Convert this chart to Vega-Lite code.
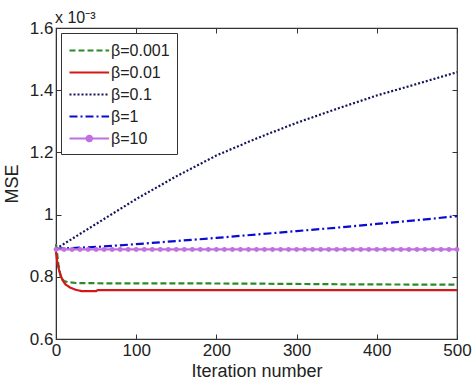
{
  "$schema": "https://vega.github.io/schema/vega-lite/v6.json",
  "width": 401,
  "height": 311,
  "autosize": "none",
  "padding": {"left": 56, "top": 28, "right": 17, "bottom": 44},
  "background": "white",
  "config": {
    "font": "Liberation Sans",
    "view": {"stroke": "#333", "strokeWidth": 1.2},
    "axis": {"grid": false, "domainColor": "#333", "tickColor": "#333", "labelColor": "#222", "titleColor": "#222", "labelFontSize": 17, "titleFontSize": 18, "titleFontWeight": "normal", "labelFont": "Liberation Sans", "titleFont": "Liberation Sans"}
  },
  "title": {"text": "x 10⁻³", "anchor": "start", "frame": "group", "fontSize": 16, "fontWeight": "normal", "color": "#222", "offset": -7, "dx": -1, "font": "Liberation Sans"},
  "datasets": {
    "d": [
      {"b": "β=0.001", "x": 0, "y": 0.905},
      {"b": "β=0.001", "x": 3, "y": 0.84},
      {"b": "β=0.001", "x": 6, "y": 0.80},
      {"b": "β=0.001", "x": 10, "y": 0.786},
      {"b": "β=0.001", "x": 15, "y": 0.783},
      {"b": "β=0.001", "x": 25, "y": 0.78},
      {"b": "β=0.001", "x": 60, "y": 0.779},
      {"b": "β=0.001", "x": 150, "y": 0.779},
      {"b": "β=0.001", "x": 250, "y": 0.778},
      {"b": "β=0.001", "x": 350, "y": 0.776},
      {"b": "β=0.001", "x": 450, "y": 0.775},
      {"b": "β=0.001", "x": 500, "y": 0.775},
      {"b": "β=0.01", "x": 0, "y": 0.88},
      {"b": "β=0.01", "x": 2, "y": 0.84},
      {"b": "β=0.01", "x": 5, "y": 0.81},
      {"b": "β=0.01", "x": 8, "y": 0.79},
      {"b": "β=0.01", "x": 12, "y": 0.775},
      {"b": "β=0.01", "x": 18, "y": 0.765},
      {"b": "β=0.01", "x": 25, "y": 0.758},
      {"b": "β=0.01", "x": 32, "y": 0.754},
      {"b": "β=0.01", "x": 50, "y": 0.754},
      {"b": "β=0.01", "x": 52, "y": 0.757},
      {"b": "β=0.01", "x": 200, "y": 0.757},
      {"b": "β=0.01", "x": 500, "y": 0.757},
      {"b": "β=0.1", "x": 0, "y": 0.89},
      {"b": "β=0.1", "x": 25, "y": 0.93},
      {"b": "β=0.1", "x": 50, "y": 0.97},
      {"b": "β=0.1", "x": 75, "y": 1.01},
      {"b": "β=0.1", "x": 100, "y": 1.05},
      {"b": "β=0.1", "x": 150, "y": 1.123},
      {"b": "β=0.1", "x": 200, "y": 1.19},
      {"b": "β=0.1", "x": 250, "y": 1.245},
      {"b": "β=0.1", "x": 300, "y": 1.295},
      {"b": "β=0.1", "x": 350, "y": 1.34},
      {"b": "β=0.1", "x": 400, "y": 1.383},
      {"b": "β=0.1", "x": 450, "y": 1.42},
      {"b": "β=0.1", "x": 500, "y": 1.458},
      {"b": "β=1", "x": 0, "y": 0.89},
      {"b": "β=1", "x": 50, "y": 0.896},
      {"b": "β=1", "x": 100, "y": 0.905},
      {"b": "β=1", "x": 150, "y": 0.915},
      {"b": "β=1", "x": 200, "y": 0.925},
      {"b": "β=1", "x": 250, "y": 0.936},
      {"b": "β=1", "x": 300, "y": 0.947},
      {"b": "β=1", "x": 350, "y": 0.958},
      {"b": "β=1", "x": 400, "y": 0.97},
      {"b": "β=1", "x": 450, "y": 0.982},
      {"b": "β=1", "x": 500, "y": 0.995},
      {"b": "β=10", "x": 0, "y": 0.888},
      {"b": "β=10", "x": 10, "y": 0.888},
      {"b": "β=10", "x": 20, "y": 0.888},
      {"b": "β=10", "x": 30, "y": 0.888},
      {"b": "β=10", "x": 40, "y": 0.888},
      {"b": "β=10", "x": 50, "y": 0.888},
      {"b": "β=10", "x": 60, "y": 0.888},
      {"b": "β=10", "x": 70, "y": 0.888},
      {"b": "β=10", "x": 80, "y": 0.888},
      {"b": "β=10", "x": 90, "y": 0.888},
      {"b": "β=10", "x": 100, "y": 0.888},
      {"b": "β=10", "x": 110, "y": 0.888},
      {"b": "β=10", "x": 120, "y": 0.888},
      {"b": "β=10", "x": 130, "y": 0.888},
      {"b": "β=10", "x": 140, "y": 0.888},
      {"b": "β=10", "x": 150, "y": 0.888},
      {"b": "β=10", "x": 160, "y": 0.888},
      {"b": "β=10", "x": 170, "y": 0.888},
      {"b": "β=10", "x": 180, "y": 0.888},
      {"b": "β=10", "x": 190, "y": 0.888},
      {"b": "β=10", "x": 200, "y": 0.888},
      {"b": "β=10", "x": 210, "y": 0.888},
      {"b": "β=10", "x": 220, "y": 0.888},
      {"b": "β=10", "x": 230, "y": 0.888},
      {"b": "β=10", "x": 240, "y": 0.888},
      {"b": "β=10", "x": 250, "y": 0.888},
      {"b": "β=10", "x": 260, "y": 0.888},
      {"b": "β=10", "x": 270, "y": 0.888},
      {"b": "β=10", "x": 280, "y": 0.888},
      {"b": "β=10", "x": 290, "y": 0.888},
      {"b": "β=10", "x": 300, "y": 0.888},
      {"b": "β=10", "x": 310, "y": 0.888},
      {"b": "β=10", "x": 320, "y": 0.888},
      {"b": "β=10", "x": 330, "y": 0.888},
      {"b": "β=10", "x": 340, "y": 0.888},
      {"b": "β=10", "x": 350, "y": 0.888},
      {"b": "β=10", "x": 360, "y": 0.888},
      {"b": "β=10", "x": 370, "y": 0.888},
      {"b": "β=10", "x": 380, "y": 0.888},
      {"b": "β=10", "x": 390, "y": 0.888},
      {"b": "β=10", "x": 400, "y": 0.888},
      {"b": "β=10", "x": 410, "y": 0.888},
      {"b": "β=10", "x": 420, "y": 0.888},
      {"b": "β=10", "x": 430, "y": 0.888},
      {"b": "β=10", "x": 440, "y": 0.888},
      {"b": "β=10", "x": 450, "y": 0.888},
      {"b": "β=10", "x": 460, "y": 0.888},
      {"b": "β=10", "x": 470, "y": 0.888},
      {"b": "β=10", "x": 480, "y": 0.888},
      {"b": "β=10", "x": 490, "y": 0.888},
      {"b": "β=10", "x": 500, "y": 0.888}
    ]
  },
  "data": {"name": "d"},
  "resolve": {"axis": {"x": "independent", "y": "independent"}},
  "layer": [
    {
      "mark": {"type": "line", "strokeWidth": 2.2},
      "encoding": {
        "x": {"field": "x", "type": "quantitative", "scale": {"domain": [0, 500], "nice": false},
              "axis": {"orient": "bottom", "values": [0, 100, 200, 300, 400, 500], "tickSize": -5, "labelPadding": 8, "title": "Iteration number", "titlePadding": 4, "labelFlush": false}},
        "y": {"field": "y", "type": "quantitative", "scale": {"domain": [0.6, 1.6], "nice": false, "zero": false},
              "axis": {"orient": "left", "values": [0.6, 0.8, 1.0, 1.2, 1.4, 1.6], "format": "~g", "tickSize": -5, "labelPadding": 8, "title": "MSE", "titlePadding": 8, "labelFlush": false}},
        "color": {"field": "b", "type": "nominal",
                  "scale": {"domain": ["β=0.001", "β=0.01", "β=0.1", "β=1", "β=10"], "range": ["#2a8a2a", "#d41818", "#14145a", "#0a0ad0", "#c070e0"]},
                  "legend": {"title": null, "orient": "top-left", "offset": 5, "fillColor": "white", "strokeColor": "#333", "padding": 7, "labelFontSize": 16, "labelFont": "Liberation Sans", "labelColor": "#222", "symbolType": "M-1,0H3.4", "symbolSize": 324, "symbolStrokeWidth": 2.2, "rowPadding": 3, "labelOffset": 22,
                             "encode": {"symbols": {"update": {
                               "shape": {"signal": "datum.value === 'β=10' ? 'M-1,0H3.4M0.9,0a0.3,0.3 0 1,0 0.6,0a0.3,0.3 0 1,0 -0.6,0' : 'M-1,0H3.4'"},
                               "fill": {"signal": "datum.value === 'β=10' ? '#c070e0' : 'transparent'"}
                             }}}}},
        "strokeDash": {"field": "b", "type": "nominal",
                  "scale": {"domain": ["β=0.001", "β=0.01", "β=0.1", "β=1", "β=10"], "range": [[6, 3], [1, 0], [2, 2], [8, 3, 2, 3], [1, 0]]},
                  "legend": null}
      }
    },
    {
      "transform": [{"filter": "datum.b == 'β=10'"}],
      "mark": {"type": "point", "filled": true, "size": 24, "color": "#c070e0", "opacity": 1},
      "encoding": {
        "x": {"field": "x", "type": "quantitative", "scale": {"domain": [0, 500], "nice": false},
              "axis": {"orient": "top", "values": [0, 100, 200, 300, 400, 500], "tickSize": -5, "labels": false, "title": null, "domain": false}},
        "y": {"field": "y", "type": "quantitative", "scale": {"domain": [0.6, 1.6], "nice": false, "zero": false},
              "axis": {"orient": "right", "values": [0.6, 0.8, 1.0, 1.2, 1.4, 1.6], "tickSize": -5, "labels": false, "title": null, "domain": false}}
      }
    }
  ]
}
